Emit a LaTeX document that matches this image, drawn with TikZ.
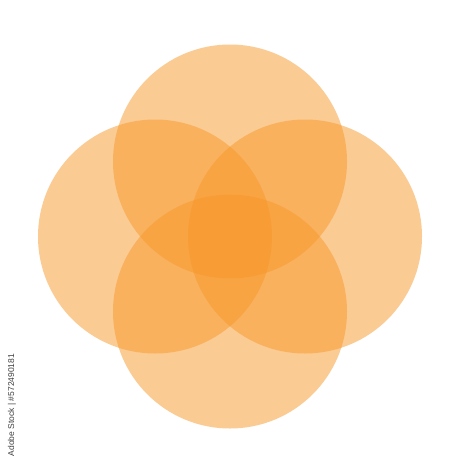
\documentclass[tikz,border=0pt]{standalone}
\usepackage{fontspec}
\setmainfont{Liberation Sans}
\definecolor{petal}{RGB}{248,152,42}
\begin{document}
\begin{tikzpicture}[x=1pt,y=-1pt,
  petalstyle/.style={fill=petal, fill opacity=0.5, draw=none},
  marktext/.style={font=\fontsize{8.5}{9}\selectfont, text=black!75, rotate=90, inner sep=0pt}]
\useasboundingbox (0,0) rectangle (474,474);
\fill[white] (0,0) rectangle (474,474);
\fill[petalstyle] (230,161.5) circle[radius=117];
\fill[petalstyle] (155,236.5) circle[radius=117];
\fill[petalstyle] (305,236.5) circle[radius=117];
\fill[petalstyle] (230,311.5) circle[radius=117];
\node[marktext] (mark) at (12,405) {Adobe Stock | \#572490181};
\end{tikzpicture}
\end{document}
